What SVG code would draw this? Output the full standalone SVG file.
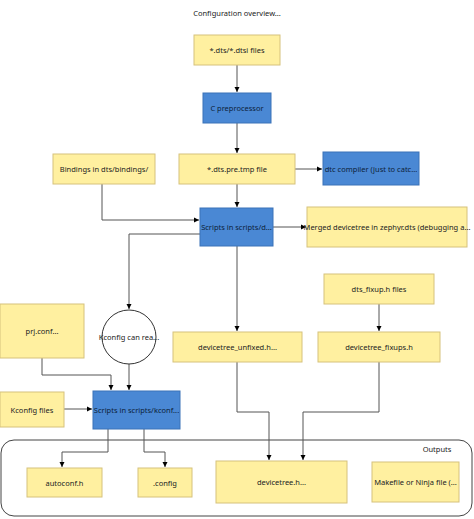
<svg xmlns="http://www.w3.org/2000/svg" width="474" height="519" viewBox="0 0 474 519">
<style>
text{font-family:"Noto Sans","Open Sans","DejaVu Sans",sans-serif;font-size:7.5px;fill:#222;text-anchor:middle;dominant-baseline:central}
.y{fill:#fff0a0;stroke:#d6c27c;stroke-width:1}
.b{fill:#4a88d4;stroke:#3b72b8;stroke-width:1}
.b+text{fill:#0d1f3a}
.c path{fill:none;stroke:#555;stroke-width:1}
</style>
<defs>
<marker id="a" viewBox="0 0 8 8" refX="7" refY="4" markerWidth="6" markerHeight="6" orient="auto"><path d="M0,0.5 L7,4 L0,7.5 Z" fill="#000"/></marker>
</defs>
<rect width="474" height="519" fill="#fff"/>
<text x="237" y="13">Configuration overview...</text>
<g id="outputs">
<rect x="1" y="440" width="471" height="76" rx="13" fill="none" stroke="#444" stroke-width="1"/>
<text x="437" y="449">Outputs</text>
</g>
<g class="c">
<path d="M237,65 V92" marker-end="url(#a)"/>
<path d="M237,123 V153" marker-end="url(#a)"/>
<path d="M295,169 H322" marker-end="url(#a)"/>
<path d="M237,184 V207" marker-end="url(#a)"/>
<path d="M102,184 V220 H199" marker-end="url(#a)"/>
<path d="M273,227 H306" marker-end="url(#a)"/>
<path d="M200,234 H129 V309" marker-end="url(#a)"/>
<path d="M237,246 V331" marker-end="url(#a)"/>
<path d="M379,304 V331" marker-end="url(#a)"/>
<path d="M42,358 V375 H111 V390" marker-end="url(#a)"/>
<path d="M129,364 V390" marker-end="url(#a)"/>
<path d="M64,409 H92" marker-end="url(#a)"/>
<path d="M108,429 V452 H62 V467" marker-end="url(#a)"/>
<path d="M144,429 V452 H165 V467" marker-end="url(#a)"/>
<path d="M237,362 V412 H269 V460" marker-end="url(#a)"/>
<path d="M379,362 V412 H303 V460" marker-end="url(#a)"/>
</g>
<g id="dts"><rect class="y" x="194" y="35" width="86" height="30"/><text x="237" y="50">*.dts/*.dtsi files</text></g>
<g id="cpp"><rect class="b" x="203" y="93" width="68" height="30"/><text x="237" y="108">C preprocessor</text></g>
<g id="bindings"><rect class="y" x="53" y="154" width="102" height="30"/><text x="104" y="169">Bindings in dts/bindings/</text></g>
<g id="pretmp"><rect class="y" x="179" y="154" width="116" height="30"/><text x="237" y="169">*.dts.pre.tmp file</text></g>
<g id="dtc"><rect class="b" x="323" y="152" width="96" height="33"/><text x="371" y="169">dtc compiler (just to catc...</text></g>
<g id="scriptsd"><rect class="b" x="200" y="208" width="73" height="38"/><text x="236.5" y="227">Scripts in scripts/d...</text></g>
<g id="merged"><rect class="y" x="307" y="207" width="160" height="40"/><text x="387" y="227" font-size="7">Merged devicetree in zephyr.dts (debugging a...</text></g>
<g id="kcread"><circle cx="129" cy="337" r="27" fill="#fff" stroke="#333" stroke-width="1"/><text x="129" y="337" font-size="7">Kconfig can rea...</text></g>
<g id="prj"><rect class="y" x="0" y="304" width="84" height="54"/><text x="42" y="331">prj.conf...</text></g>
<g id="fixup"><rect class="y" x="324" y="274" width="110" height="30"/><text x="379" y="289">dts_fixup.h files</text></g>
<g id="unfixed"><rect class="y" x="173" y="332" width="129" height="30"/><text x="237.5" y="347">devicetree_unfixed.h...</text></g>
<g id="fixups"><rect class="y" x="318" y="332" width="122" height="30"/><text x="379" y="347">devicetree_fixups.h</text></g>
<g id="kconfigfiles"><rect class="y" x="0" y="392" width="64" height="35"/><text x="32" y="409.5">Kconfig files</text></g>
<g id="scriptsk"><rect class="b" x="93" y="391" width="87" height="38"/><text x="136.5" y="410">Scripts in scripts/kconf...</text></g>
<g id="autoconf"><rect class="y" x="27" y="468" width="75" height="29"/><text x="64.5" y="482.5">autoconf.h</text></g>
<g id="config"><rect class="y" x="138" y="468" width="54" height="29"/><text x="165" y="482.5">.config</text></g>
<g id="devicetree"><rect class="y" x="216" y="461" width="131" height="42"/><text x="281.5" y="482">devicetree.h...</text></g>
<g id="makefile"><rect class="y" x="372" y="462" width="87" height="40"/><text x="415.5" y="482">Makefile or Ninja file (...</text></g>
</svg>
